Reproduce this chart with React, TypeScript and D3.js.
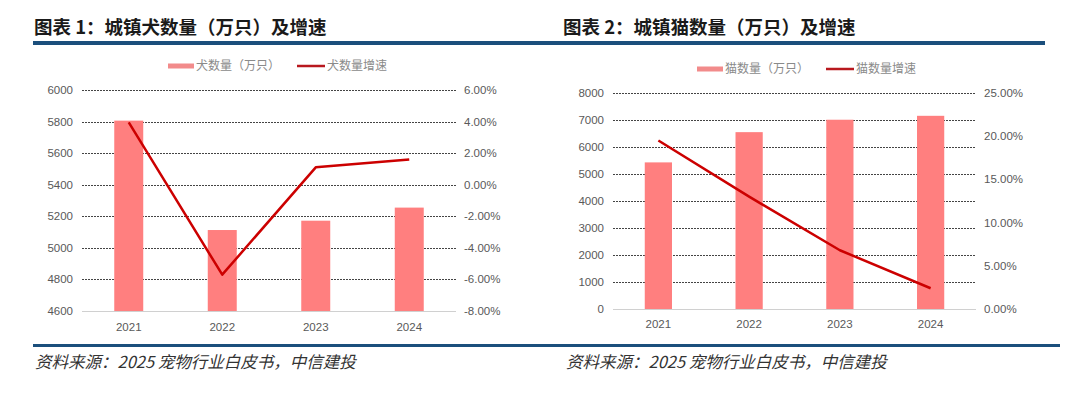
import { useEffect, useRef } from 'react';
import * as d3 from 'd3';

// categories
const years = ['2021', '2022', '2023', '2024'];

// dog chart (万只, %)
const dogCount = [5806, 5113, 5172, 5255];
const dogGrowth = [3.95, -5.7, 1.1, 1.6];
const dogLeftTicks = [4600, 4800, 5000, 5200, 5400, 5600, 5800, 6000];
const dogRightTicks = [-8, -6, -4, -2, 0, 2, 4, 6];

// cat chart (万只, %)
const catCount = [5430, 6550, 7010, 7155];
const catGrowth = [19.5, 13.0, 6.8, 2.4];
const catLeftTicks = [0, 1000, 2000, 3000, 4000, 5000, 6000, 7000, 8000];
const catRightTicks = [0, 5, 10, 15, 20, 25];

const BAR = '#ff7f7f';
const LINE = '#cc0000';
const BLUE = '#1b4f7c';
const CJK = '"Noto Sans CJK SC", "Noto Sans", sans-serif';
const NUM = '"Liberation Sans", Arial, sans-serif';

interface ChartCfg {
  title: string;
  titleX: number;
  source: string;
  sourceX: number;
  barName: string;
  lineName: string;
  legendX: number;
  legendY: number;
  counts: number[];
  growth: number[];
  leftTicks: number[];
  rightTicks: number[];
  x0: number;
  x1: number;
  yTop: number;
  yBottom: number;
  xLabelY: number;
  barRatio: number;
}

function drawChart(svg: d3.Selection<SVGSVGElement, unknown, null, undefined>, c: ChartCfg) {
  const g = svg.append('g');

  // title
  g.append('text')
    .attr('x', c.titleX)
    .attr('y', 34)
    .attr('font-family', CJK)
    .attr('font-weight', 'bold')
    .attr('font-size', 18.5)
    .attr('fill', '#1a1a1a')
    .text(c.title);

  g.append('text')
    .attr('x', c.sourceX)
    .attr('y', 368)
    .attr('font-family', CJK)
    .attr('font-style', 'italic')
    .attr('font-size', 16.5)
    .attr('fill', '#333')
    .text(c.source);

  const x = d3.scaleBand().domain(years).range([c.x0, c.x1]).padding(0);
  const yL = d3
    .scaleLinear()
    .domain([c.leftTicks[0], c.leftTicks[c.leftTicks.length - 1]])
    .range([c.yBottom, c.yTop]);
  const yR = d3
    .scaleLinear()
    .domain([c.rightTicks[0], c.rightTicks[c.rightTicks.length - 1]])
    .range([c.yBottom, c.yTop]);

  // gridlines
  g.selectAll('.grid')
    .data(c.leftTicks)
    .join('line')
    .attr('x1', c.x0)
    .attr('x2', c.x1)
    .attr('y1', d => Math.round(yL(d)) + 0.5)
    .attr('y2', d => Math.round(yL(d)) + 0.5)
    .attr('stroke', (d, i) => (i === 0 ? '#d0d0d0' : '#444'))
    .attr('stroke-dasharray', (d, i) => (i === 0 ? null : '2,1'))
    .attr('stroke-width', 1);

  // left ticks
  g.selectAll('.lt')
    .data(c.leftTicks)
    .join('text')
    .attr('x', c.x0 - 9)
    .attr('y', d => yL(d) + 4)
    .attr('text-anchor', 'end')
    .attr('font-family', NUM)
    .attr('font-size', 11.5)
    .attr('fill', '#595959')
    .text(d => String(d));

  // right ticks
  g.selectAll('.rt')
    .data(c.rightTicks)
    .join('text')
    .attr('x', c.x1 + 8)
    .attr('y', d => yR(d) + 4)
    .attr('font-family', NUM)
    .attr('font-size', 11.5)
    .attr('fill', '#595959')
    .text(d => d.toFixed(2) + '%');

  // x labels
  g.selectAll('.xl')
    .data(years)
    .join('text')
    .attr('x', d => (x(d) || 0) + x.bandwidth() / 2)
    .attr('y', c.xLabelY)
    .attr('text-anchor', 'middle')
    .attr('font-family', NUM)
    .attr('font-size', 11.5)
    .attr('fill', '#595959')
    .text(d => d);

  // bars
  const bw = x.bandwidth() * c.barRatio;
  g.selectAll('.bar')
    .data(c.counts)
    .join('rect')
    .attr('x', (d, i) => (x(years[i]) || 0) + x.bandwidth() / 2 - bw / 2)
    .attr('y', d => yL(d))
    .attr('width', bw)
    .attr('height', d => c.yBottom - yL(d))
    .attr('fill', BAR);

  // growth line
  const line = d3
    .line<number>()
    .x((d, i) => (x(years[i]) || 0) + x.bandwidth() / 2)
    .y(d => yR(d));
  g.append('path')
    .datum(c.growth)
    .attr('fill', 'none')
    .attr('stroke', LINE)
    .attr('stroke-width', 2.5)
    .attr('stroke-linejoin', 'round')
    .attr('d', line);

  // legend
  g.append('rect')
    .attr('x', c.legendX)
    .attr('y', c.legendY - 2.5)
    .attr('width', 26)
    .attr('height', 5)
    .attr('fill', '#f28b8b');
  g.append('text')
    .attr('x', c.legendX + 28)
    .attr('y', c.legendY + 4)
    .attr('font-family', CJK)
    .attr('font-size', 12)
    .attr('fill', '#8a8a8a')
    .text(c.barName);
  g.append('line')
    .attr('x1', c.legendX + 129)
    .attr('x2', c.legendX + 157)
    .attr('y1', c.legendY)
    .attr('y2', c.legendY)
    .attr('stroke', '#b8181e')
    .attr('stroke-width', 2.5);
  g.append('text')
    .attr('x', c.legendX + 159)
    .attr('y', c.legendY + 4)
    .attr('font-family', CJK)
    .attr('font-size', 12)
    .attr('fill', '#8a8a8a')
    .text(c.lineName);
}

export default function App() {
  const ref = useRef<SVGSVGElement>(null);

  useEffect(() => {
    const svg = d3.select(ref.current as SVGSVGElement);
    svg.selectAll('*').remove();

    svg.append('rect').attr('width', 1080).attr('height', 393).attr('fill', '#fff');

    // blue rules
    svg.append('rect').attr('x', 33).attr('y', 41).attr('width', 1012).attr('height', 4).attr('fill', BLUE);
    svg.append('rect').attr('x', 33).attr('y', 344).attr('width', 1027).attr('height', 3).attr('fill', BLUE);

    drawChart(svg, {
      title: '图表 1：城镇犬数量（万只）及增速',
      titleX: 34,
      source: '资料来源：2025 宠物行业白皮书，中信建投',
      sourceX: 35,
      barName: '犬数量（万只）',
      lineName: '犬数量增速',
      legendX: 168,
      legendY: 66,
      counts: dogCount,
      growth: dogGrowth,
      leftTicks: dogLeftTicks,
      rightTicks: dogRightTicks,
      x0: 82,
      x1: 456,
      yTop: 90,
      yBottom: 311,
      xLabelY: 331,
      barRatio: 0.31,
    });

    drawChart(svg, {
      title: '图表 2：城镇猫数量（万只）及增速',
      titleX: 563,
      source: '资料来源：2025 宠物行业白皮书，中信建投',
      sourceX: 566,
      barName: '猫数量（万只）',
      lineName: '猫数量增速',
      legendX: 697,
      legendY: 69,
      counts: catCount,
      growth: catGrowth,
      leftTicks: catLeftTicks,
      rightTicks: catRightTicks,
      x0: 613,
      x1: 976,
      yTop: 93,
      yBottom: 309,
      xLabelY: 328,
      barRatio: 0.3,
    });
  }, []);

  return (
    <svg
      ref={ref}
      width={1080}
      height={393}
      style={{ position: 'absolute', left: 0, top: 0 }}
    />
  );
}
